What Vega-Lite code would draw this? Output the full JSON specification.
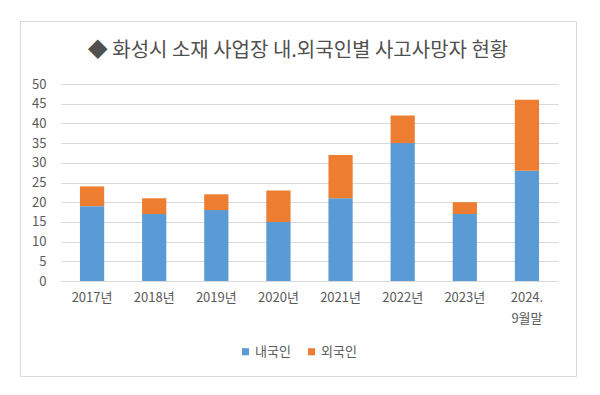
{
  "$schema": "https://vega.github.io/schema/vega-lite/v6.json",
  "width": 556,
  "height": 355,
  "autosize": {"type": "none"},
  "padding": {"left": 20, "top": 21, "right": 24, "bottom": 19},
  "background": "white",
  "title": {
    "text": "◆ 화성시 소재 사업장 내.외국인별 사고사망자 현황",
    "anchor": "middle",
    "orient": "top",
    "offset": -40,
    "fontSize": 20,
    "fontWeight": "normal",
    "color": "#505050",
    "font": "Noto Sans CJK KR"
  },
  "data": {
    "values": [
      {"year": "2017년", "type": "내국인", "count": 19},
      {"year": "2017년", "type": "외국인", "count": 5},
      {"year": "2018년", "type": "내국인", "count": 17},
      {"year": "2018년", "type": "외국인", "count": 4},
      {"year": "2019년", "type": "내국인", "count": 18},
      {"year": "2019년", "type": "외국인", "count": 4},
      {"year": "2020년", "type": "내국인", "count": 15},
      {"year": "2020년", "type": "외국인", "count": 8},
      {"year": "2021년", "type": "내국인", "count": 21},
      {"year": "2021년", "type": "외국인", "count": 11},
      {"year": "2022년", "type": "내국인", "count": 35},
      {"year": "2022년", "type": "외국인", "count": 7},
      {"year": "2023년", "type": "내국인", "count": 17},
      {"year": "2023년", "type": "외국인", "count": 3},
      {"year": "2024.|9월말", "type": "내국인", "count": 28},
      {"year": "2024.|9월말", "type": "외국인", "count": 18}
    ]
  },
  "mark": {"type": "bar"},
  "encoding": {
    "x": {
      "field": "year",
      "type": "nominal",
      "sort": null,
      "scale": {"range": [41, 538], "paddingInner": 0.61, "paddingOuter": 0.305},
      "axis": {
        "title": null,
        "orient": "bottom",
        "offset": -95,
        "labelAngle": 0,
        "labelExpr": "split(datum.label, '|')",
        "labelLineHeight": 21,
        "labelPadding": 10,
        "labelFontSize": 13,
        "labelColor": "#595959",
        "labelFont": "Noto Sans CJK KR",
        "ticks": false,
        "domain": true,
        "domainColor": "#d9d9d9",
        "grid": false
      }
    },
    "y": {
      "field": "count",
      "type": "quantitative",
      "stack": "zero",
      "scale": {"domain": [0, 50], "range": [260, 63], "nice": false, "zero": true},
      "axis": {
        "title": null,
        "orient": "left",
        "offset": -41,
        "values": [0, 5, 10, 15, 20, 25, 30, 35, 40, 45, 50],
        "domain": false,
        "ticks": false,
        "grid": true,
        "gridColor": "#d9d9d9",
        "gridWidth": 1,
        "labelPadding": 15,
        "labelFontSize": 13,
        "labelColor": "#595959",
        "labelFont": "Noto Sans CJK KR"
      }
    },
    "color": {
      "field": "type",
      "type": "nominal",
      "scale": {"domain": ["내국인", "외국인"], "range": ["#5B9BD5", "#ED7D31"]},
      "legend": {
        "title": null,
        "orient": "none",
        "direction": "horizontal",
        "legendX": 219,
        "legendY": 324,
        "symbolType": "square",
        "symbolSize": 50,
        "symbolStrokeWidth": 0,
        "labelFontSize": 13,
        "labelColor": "#595959",
        "labelFont": "Noto Sans CJK KR",
        "labelOffset": 3,
        "columnPadding": 14,
        "padding": 0
      }
    },
    "order": {"field": "type", "sort": "ascending"}
  },
  "config": {
    "view": {"stroke": "#d9d9d9", "strokeWidth": 1, "fill": "white"},
    "font": "Noto Sans CJK KR"
  }
}
